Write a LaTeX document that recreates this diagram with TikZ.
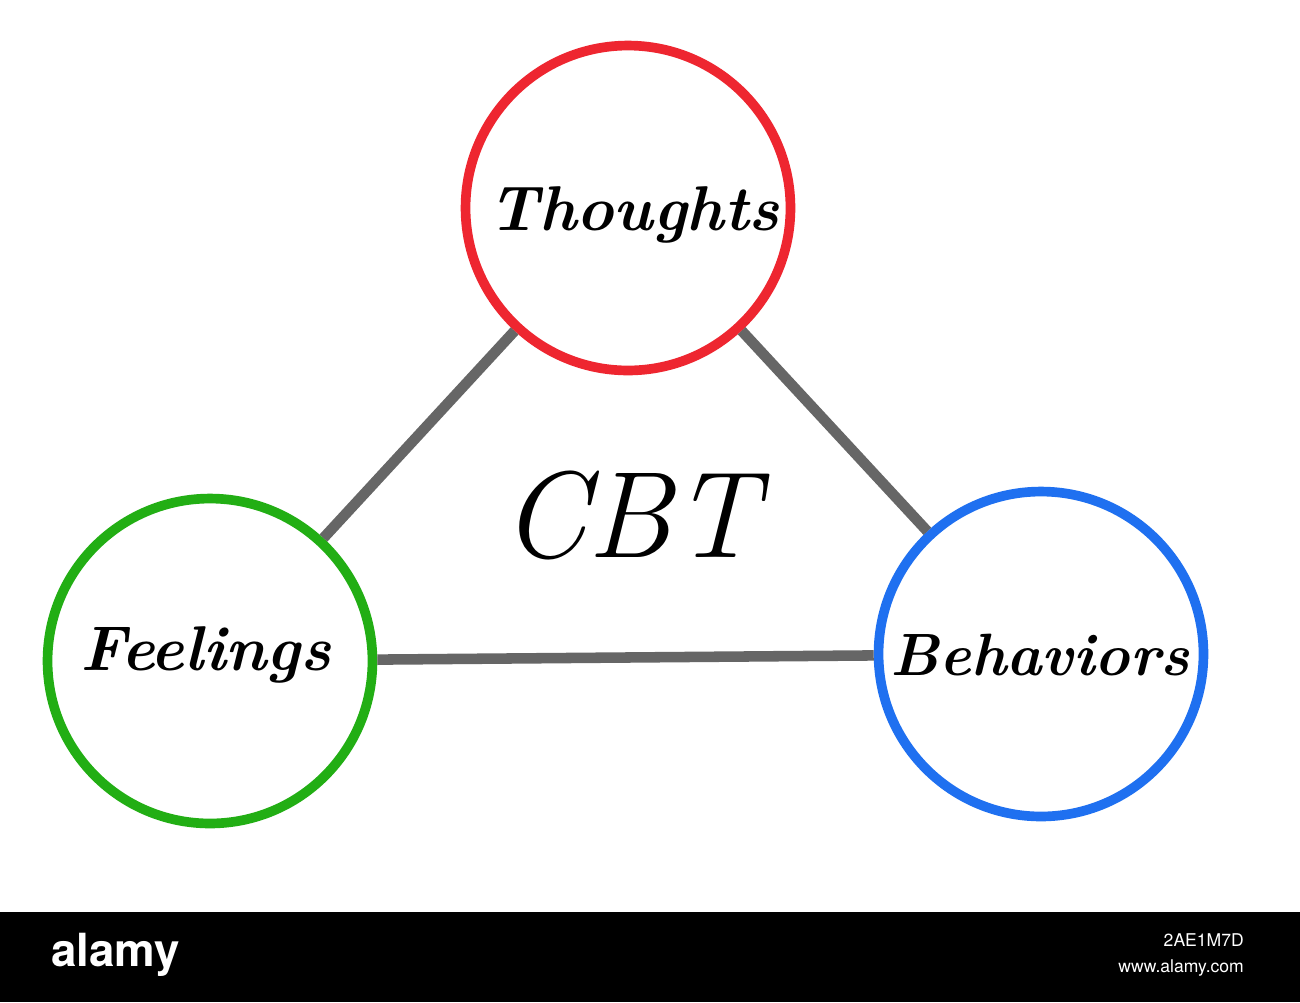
\documentclass[tikz,border=0pt]{standalone}
\usepackage{fontspec}
\setmainfont{TeX Gyre Heros}
\newfontfamily\scr{Latin Modern Roman}
\definecolor{cr}{HTML}{EE2630}
\definecolor{cg}{HTML}{22AE14}
\definecolor{cb}{HTML}{1F70F0}
\begin{document}
\begin{tikzpicture}[x=0.02cm,y=-0.02cm,
  circ/.style={circle,draw,line width=5.5pt,minimum size=6.5cm,inner sep=0pt,font=\scr\bfseries\itshape\fontsize{34}{40}\selectfont},
  link/.style={draw=black!60,line width=6pt}]
\useasboundingbox (0,0) rectangle (1300,1002);
\fill[white] (0,0) rectangle (1300,1002);
\node[circ,draw=cr] (t) at (628,208) {};
\node[circ,draw=cg] (f) at (210,661) {};
\node[circ,draw=cb] (b) at (1041,654) {};
\node[font=\scr\bfseries\itshape\fontsize{36}{40}\selectfont] (tt) at (634,215) {Thoughts};
\node[font=\scr\bfseries\itshape\fontsize{36}{40}\selectfont] (ft) at (206,655) {Feelings};
\node[font=\scr\bfseries\itshape\fontsize{34}{40}\selectfont] (bt) at (1040,655) {Behaviors};
\draw[link] (t) -- (f);
\draw[link] (t) -- (b);
\draw[link] (f) -- (b);
\node[font=\scr\itshape\fontsize{70}{80}\selectfont] (c) at (630,515) {CBT};
\fill[black] (0,912) rectangle (1300,1002);
\node[text=white,font=\bfseries\fontsize{26}{30}\selectfont,anchor=west] (al) at (45,955) {alamy};
\node[text=white,font=\fontsize{10}{12}\selectfont,anchor=east] (id) at (1250,940) {2AE1M7D};
\node[text=white,font=\fontsize{10}{12}\selectfont,anchor=east] (ww) at (1250,968) {www.alamy.com};
\end{tikzpicture}
\end{document}
